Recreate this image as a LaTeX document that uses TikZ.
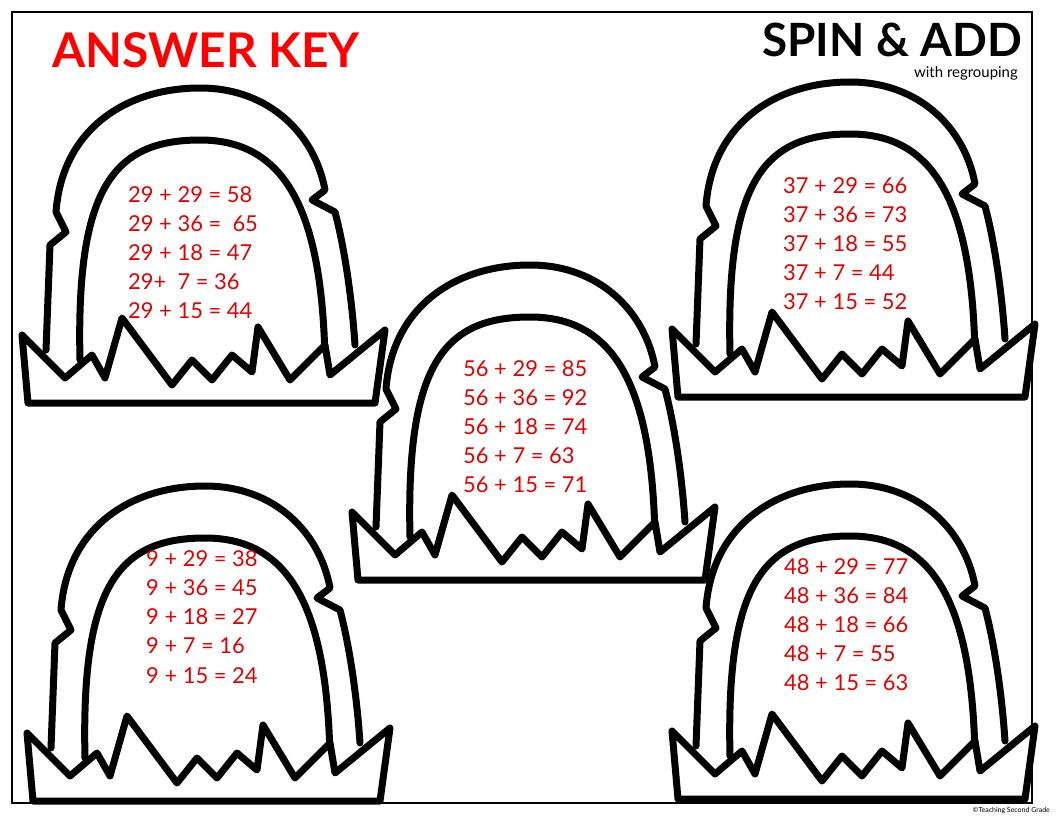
\documentclass[tikz,border=0pt]{standalone}
\usepackage{fontspec}
\setmainfont{Lato}
\usetikzlibrary{positioning}

\tikzset{
  cave line/.style={line width=7bp, line join=round, line cap=round},
  sum/.style={anchor=west, text=red!90!black, font=\fontsize{22}{22}\selectfont, inner sep=0pt},
}

% one cave with grass, shifted by (#1,#2)
\newcommand{\cavepic}[2]{%
  \begin{scope}[shift={(#1,#2)}]
    % outer arch
    \draw[cave line] (46,350) -- (50,245) -- (66,232) -- (56,212)
      .. controls (62,130) and (125,88) .. (200,88)
      .. controls (270,88) and (315,135) .. (325,190) -- (312,200) -- (335,212)
      .. controls (345,250) and (352,300) .. (355,345);
    % inner arch
    \draw[cave line] (80,360) .. controls (76,190) and (112,140) .. (200,140)
      .. controls (285,140) and (322,210) .. (325,360);
    % grass
    \draw[cave line, fill=white] (28,403) -- (22,335) -- (65,378) -- (92,355)
      -- (105,378) -- (122,318) -- (172,385) -- (192,360) -- (212,380)
      -- (232,355) -- (252,372) -- (258,327) -- (290,380) -- (325,345)
      -- (330,375) -- (385,330) -- (375,403) -- cycle;
  \end{scope}}

\begin{document}
\begin{tikzpicture}[x=1bp, y=-1bp]
  \useasboundingbox (0,0) rectangle (1056,816);
  \draw[line width=2.5bp] (12,12) rectangle (1032,803);

  % titles
  \node[anchor=west, text=red, font=\fontsize{48}{48}\selectfont\bfseries, inner sep=0pt] (key) at (52,50) {ANSWER KEY};
  \node[anchor=east, font=\fontsize{46}{46}\selectfont\bfseries, inner sep=0pt] (spin) at (1022,40) {SPIN \& ADD};
  \node[anchor=north east, font=\fontsize{15}{15}\selectfont, inner sep=0pt] (regroup) at (1018,66) {with regrouping};
  \node[anchor=east, font=\fontsize{7}{7}\selectfont, inner sep=0pt] (copy) at (1050,811) {©Teaching Second Grade};

  % caves
  \cavepic{0}{0}
  \cavepic{330}{177}
  \cavepic{650}{-6}
  \cavepic{5}{398}
  \cavepic{650}{396}

  % top left
  \node[sum] (a1) at (128,195) {29 + 29 = 58};
  \node[sum] (a2) at (128,224) {29 + 36 =\ \ 65};
  \node[sum] (a3) at (128,253) {29 + 18 = 47};
  \node[sum] (a4) at (128,282) {29+\ \ 7 = 36};
  \node[sum] (a5) at (128,311) {29 + 15 = 44};

  % middle
  \node[sum] (b1) at (463,369) {56 + 29 = 85};
  \node[sum] (b2) at (463,398) {56 + 36 = 92};
  \node[sum] (b3) at (463,427) {56 + 18 = 74};
  \node[sum] (b4) at (463,456) {56 + 7 = 63};
  \node[sum] (b5) at (463,485) {56 + 15 = 71};

  % top right
  \node[sum] (c1) at (783,186) {37 + 29 = 66};
  \node[sum] (c2) at (783,215) {37 + 36 = 73};
  \node[sum] (c3) at (783,244) {37 + 18 = 55};
  \node[sum] (c4) at (783,273) {37 + 7 = 44};
  \node[sum] (c5) at (783,302) {37 + 15 = 52};

  % bottom left
  \node[sum] (d1) at (146,559) {9 + 29 = 38};
  \node[sum] (d2) at (146,588) {9 + 36 = 45};
  \node[sum] (d3) at (146,617) {9 + 18 = 27};
  \node[sum] (d4) at (146,646) {9 + 7 = 16};
  \node[sum] (d5) at (146,676) {9 + 15 = 24};

  % bottom right
  \node[sum] (e1) at (784,567) {48 + 29 = 77};
  \node[sum] (e2) at (784,596) {48 + 36 = 84};
  \node[sum] (e3) at (784,625) {48 + 18 = 66};
  \node[sum] (e4) at (784,654) {48 + 7 = 55};
  \node[sum] (e5) at (784,683) {48 + 15 = 63};
\end{tikzpicture}
\end{document}
